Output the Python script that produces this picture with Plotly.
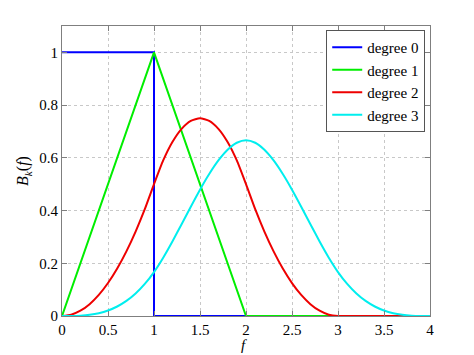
import plotly.graph_objects as go

# x samples (0 to 4, step 0.1)
f_vals = [round(i * 0.1, 1) for i in range(41)]

# degree 0: box on [0,1)
deg0_x = [0, 1, 1, 4]
deg0_y = [1, 1, 0, 0]

# degree 1: hat on [0,2]
deg1_x = [0, 1, 2, 4]
deg1_y = [0, 1, 0, 0]

# degree 2 values read at f_vals
deg2_y = [0, 0.005, 0.02, 0.045, 0.08, 0.125, 0.18, 0.245, 0.32, 0.405, 0.5,
          0.59, 0.66, 0.71, 0.74, 0.75, 0.74, 0.71, 0.66, 0.59, 0.5,
          0.405, 0.32, 0.245, 0.18, 0.125, 0.08, 0.045, 0.02, 0.005, 0,
          0, 0, 0, 0, 0, 0, 0, 0, 0, 0]

# degree 3 values read at f_vals
deg3_y = [0, 0.00017, 0.00133, 0.0045, 0.01067, 0.02083, 0.036, 0.05717, 0.08533, 0.1215, 0.16667,
          0.22117, 0.28267, 0.34817, 0.41467, 0.47917, 0.53867, 0.59017, 0.63067, 0.65717, 0.66667,
          0.65717, 0.63067, 0.59017, 0.53867, 0.47917, 0.41467, 0.34817, 0.28267, 0.22117, 0.16667,
          0.1215, 0.08533, 0.05717, 0.036, 0.02083, 0.01067, 0.0045, 0.00133, 0.00017, 0]

x_ticks = [0, 0.5, 1, 1.5, 2, 2.5, 3, 3.5, 4]
x_tick_labels = ["0", "0.5", "1", "1.5", "2", "2.5", "3", "3.5", "4"]
y_ticks = [0, 0.2, 0.4, 0.6, 0.8, 1]
y_tick_labels = ["0", "0.2", "0.4", "0.6", "0.8", "1"]

series_names = ["degree 0", "degree 1", "degree 2", "degree 3"]
colors = ["#0000ff", "#00ee00", "#ee0000", "#00eeee"]

fig = go.Figure()
fig.add_trace(go.Scatter(x=deg0_x, y=deg0_y, mode="lines", name=series_names[0],
                         line=dict(color=colors[0], width=2)))
fig.add_trace(go.Scatter(x=deg1_x, y=deg1_y, mode="lines", name=series_names[1],
                         line=dict(color=colors[1], width=2)))
fig.add_trace(go.Scatter(x=f_vals, y=deg2_y, mode="lines", name=series_names[2],
                         line=dict(color=colors[2], width=2, shape="spline", smoothing=0.6)))
fig.add_trace(go.Scatter(x=f_vals, y=deg3_y, mode="lines", name=series_names[3],
                         line=dict(color=colors[3], width=2, shape="spline", smoothing=0.6)))

font_family = "'Liberation Serif', 'DejaVu Serif', serif"
axis_common = dict(
    showline=True, linecolor="#7f7f7f", linewidth=1, mirror="ticks",
    ticks="inside", ticklen=5, tickcolor="#7f7f7f",
    showgrid=True, gridcolor="#c8c8c8", griddash="dot", gridwidth=1,
    zeroline=False, automargin=False,
    tickfont=dict(family=font_family, size=15, color="black"),
)

fig.update_layout(
    width=466, height=347,
    margin=dict(l=54, r=44, t=18, b=39),
    paper_bgcolor="white", plot_bgcolor="white",
    font=dict(family=font_family, color="black"),
    showlegend=True,
    legend=dict(x=0.987, y=0.986, xanchor="right", yanchor="top",
                bgcolor="white", bordercolor="#555555", borderwidth=1,
                font=dict(family=font_family, size=15, color="black"),
                tracegroupgap=0, itemwidth=30),
    xaxis=dict(range=[0, 4], tickvals=x_ticks, ticktext=x_tick_labels, **axis_common),
    yaxis=dict(range=[0, 1.1], tickvals=y_ticks, ticktext=y_tick_labels,
               title=dict(text="<i>B</i><sub><i>k</i></sub>(<i>f</i>)", font=dict(family=font_family, size=16), standoff=6),
               **axis_common),
    annotations=[dict(text="<i>f</i>", xref="paper", yref="paper", x=0.495, y=-0.1,
                      xanchor="center", yanchor="middle", showarrow=False,
                      font=dict(family=font_family, size=15, color="black"))],
)

fig.write_html("out.html")
